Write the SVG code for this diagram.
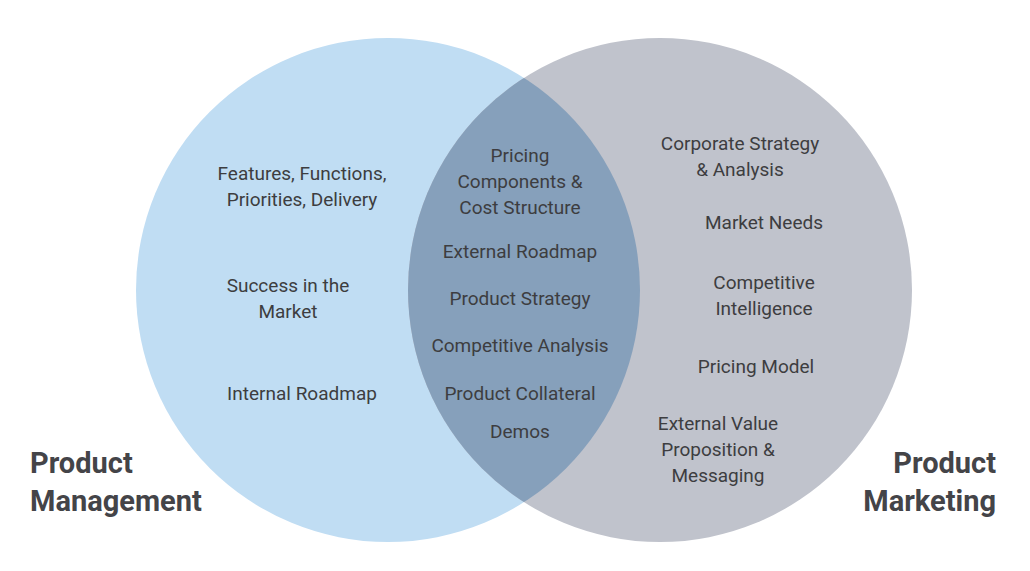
<svg xmlns="http://www.w3.org/2000/svg" width="1030" height="571" viewBox="0 0 1030 571">
<style>
text{font-family:"Roboto","Liberation Sans",sans-serif;fill:#3d3d40;font-size:19px;text-anchor:middle}
.big{font-size:29px;font-weight:bold;text-anchor:start;fill:#444448}
.end{text-anchor:end}
</style>
<defs><clipPath id="lc"><circle cx="388" cy="290" r="252"/></clipPath></defs>
<rect width="1030" height="571" fill="#fff"/>
<g id="pm"><circle cx="388" cy="290" r="252" fill="#c0ddf3"/></g>
<g id="pmk"><circle cx="660" cy="290" r="252" fill="#c0c3cc"/></g>
<g id="overlap"><circle cx="660" cy="290" r="252" fill="#86a0bb" clip-path="url(#lc)"/></g>
<g id="left-texts">
<text x="302" y="180">Features, Functions,</text>
<text x="302" y="206">Priorities, Delivery</text>
<text x="288" y="292">Success in the</text>
<text x="288" y="318">Market</text>
<text x="302" y="400">Internal Roadmap</text>
</g>
<g id="center-texts">
<text x="520" y="162">Pricing</text>
<text x="520" y="188">Components &amp;</text>
<text x="520" y="214">Cost Structure</text>
<text x="520" y="258">External Roadmap</text>
<text x="520" y="305">Product Strategy</text>
<text x="520" y="352">Competitive Analysis</text>
<text x="520" y="400">Product Collateral</text>
<text x="520" y="438">Demos</text>
</g>
<g id="right-texts">
<text x="740" y="150">Corporate Strategy</text>
<text x="740" y="176">&amp; Analysis</text>
<text x="764" y="229">Market Needs</text>
<text x="764" y="289">Competitive</text>
<text x="764" y="315">Intelligence</text>
<text x="756" y="373">Pricing Model</text>
<text x="718" y="430">External Value</text>
<text x="718" y="456">Proposition &amp;</text>
<text x="718" y="482">Messaging</text>
</g>
<g id="labels">
<text class="big" x="30" y="473">Product</text>
<text class="big" x="30" y="511">Management</text>
<text class="big end" x="996" y="473" style="text-anchor:end">Product</text>
<text class="big end" x="996" y="511" style="text-anchor:end">Marketing</text>
</g>
</svg>
